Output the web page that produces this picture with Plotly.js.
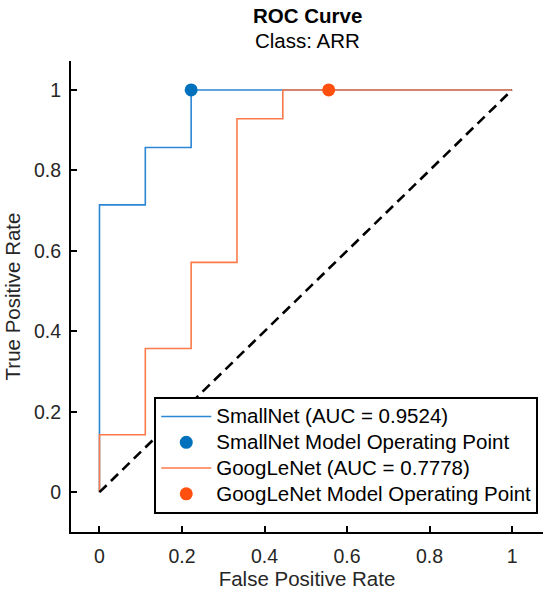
<!DOCTYPE html>
<html>
<head>
<meta charset="utf-8">
<script src="https://cdn.plot.ly/plotly-3.0.1.min.js"></script>
<style>html,body{margin:0;padding:0;background:#fff;}#chart{width:550px;height:600px;}</style>
</head>
<body>
<div id="chart"></div>
<script>
// ROC curve data
const smallNetFPR = [0, 0, 0.1111, 0.1111, 0.2222, 0.2222, 1];
const smallNetTPR = [0, 0.7143, 0.7143, 0.8571, 0.8571, 1, 1];
const googLeNetFPR = [0, 0, 0.1111, 0.1111, 0.2222, 0.2222, 0.3333, 0.3333, 0.4444, 0.4444, 1];
const googLeNetTPR = [0, 0.1429, 0.1429, 0.3571, 0.3571, 0.5714, 0.5714, 0.9286, 0.9286, 1, 1];
const smallNetOpFPR = [0.2222];
const smallNetOpTPR = [1];
const googLeNetOpFPR = [0.5556];
const googLeNetOpTPR = [1];
const chanceX = [0, 1];
const chanceY = [0, 1];
const seriesNames = ['SmallNet (AUC = 0.9524)', 'SmallNet Model Operating Point',
                     'GoogLeNet (AUC = 0.7778)', 'GoogLeNet Model Operating Point'];
const tickVals = [0, 0.2, 0.4, 0.6, 0.8, 1];
const tickText = ['0', '0.2', '0.4', '0.6', '0.8', '1'];

const FONT = 'Liberation Sans, Arial, Helvetica, sans-serif';
const legendName = s => '<span style="font-size:20.5px">' + s + '</span>';

const traces = [
  {x: smallNetFPR, y: smallNetTPR, mode: 'lines', name: legendName(seriesNames[0]),
   line: {color: '#2B86D4', width: 1.6, shape: 'linear'}},
  {x: smallNetOpFPR, y: smallNetOpTPR, mode: 'markers', name: legendName(seriesNames[1]),
   marker: {color: '#0072BD', size: 13}},
  {x: googLeNetFPR, y: googLeNetTPR, mode: 'lines', name: legendName(seriesNames[2]),
   line: {color: '#FB7A48', width: 1.6, shape: 'linear'}},
  {x: googLeNetOpFPR, y: googLeNetOpTPR, mode: 'markers', name: legendName(seriesNames[3]),
   marker: {color: '#FF5010', size: 13}},
  {x: chanceX, y: chanceY, mode: 'lines', showlegend: false, hoverinfo: 'skip',
   line: {color: '#000000', width: 2.6, dash: '10px,6px'}}
];

const layout = {
  width: 550, height: 600,
  margin: {l: 71, r: 7, t: 61, b: 68, pad: 0},
  paper_bgcolor: '#ffffff', plot_bgcolor: '#ffffff',
  font: {family: FONT, color: '#262626', size: 19},
  showlegend: true,
  legend: {
    x: 0.1764, y: 0.2873, xanchor: 'left', yanchor: 'top',
    bgcolor: '#ffffff', bordercolor: '#000000', borderwidth: 2,
    font: {family: FONT, size: 17.5, color: '#000000'},
    itemwidth: 50, tracegroupgap: 0, traceorder: 'normal'
  },
  xaxis: {
    range: [-0.069, 1.075], tickvals: tickVals, ticktext: tickText,
    ticks: 'inside', ticklen: 6, tickwidth: 2, tickcolor: '#000000',
    showline: true, linecolor: '#000000', linewidth: 2, mirror: false,
    showgrid: false, zeroline: false, fixedrange: true,
    tickfont: {family: FONT, size: 19.5, color: '#262626'},
    ticklabelstandoff: 6,
    title: {text: 'False Positive Rate', font: {family: FONT, size: 20.5, color: '#262626'}, standoff: 5}
  },
  yaxis: {
    range: [-0.099, 1.072], tickvals: tickVals, ticktext: tickText,
    ticks: 'inside', ticklen: 6, tickwidth: 2, tickcolor: '#000000',
    showline: true, linecolor: '#000000', linewidth: 2, mirror: false,
    showgrid: false, zeroline: false, fixedrange: true,
    tickfont: {family: FONT, size: 19.5, color: '#262626'},
    ticklabelstandoff: 4,
    title: {text: 'True Positive Rate', font: {family: FONT, size: 20.5, color: '#262626'}, standoff: 8}
  },
  annotations: [
    {text: '<b>ROC Curve</b>', xref: 'paper', yref: 'paper', x: 0.5, y: (532 - 15) / 471,
     xanchor: 'center', yanchor: 'middle', showarrow: false,
     font: {family: FONT, size: 20.5, color: '#000000'}},
    {text: 'Class: ARR', xref: 'paper', yref: 'paper', x: 0.5, y: (532 - 40) / 471,
     xanchor: 'center', yanchor: 'middle', showarrow: false,
     font: {family: FONT, size: 20.5, color: '#000000'}}
  ]
};

Plotly.newPlot('chart', traces, layout, {displayModeBar: false, staticPlot: true});
</script>
</body>
</html>
